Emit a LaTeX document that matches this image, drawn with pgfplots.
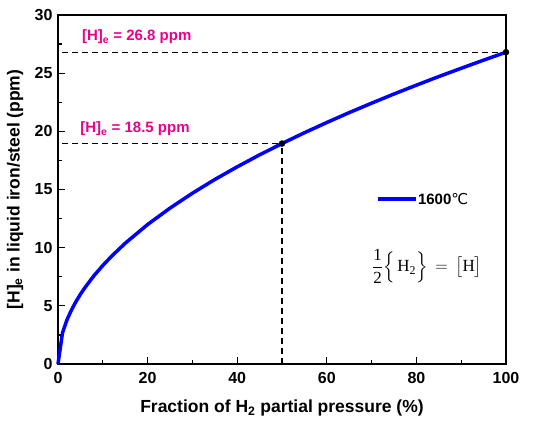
\documentclass[border=0pt]{standalone}
\usepackage{amsmath}
\usepackage{pgfplots}
\pgfplotsset{compat=1.18}
\usepackage{fontspec}
\setmainfont{Liberation Sans}
\newfontfamily\serifeq{Liberation Serif}
\newfontfamily\symfont{DejaVu Sans}
\definecolor{hpink}{RGB}{236,0,140}

\begin{document}
\begin{tikzpicture}
\begin{axis}[
    scale only axis,
    width=448pt, height=349pt,
    xmin=0, xmax=100, ymin=0, ymax=30,
    xtick={0,20,...,100}, ytick={0,5,...,30},
    minor x tick num=1, minor y tick num=1,
    tick align=inside,
    xtick pos=bottom, ytick pos=left,
    major tick length=7pt, minor tick length=4pt,
    every tick/.style={black, line width=1.2pt},
    axis line style={line width=1.5pt},
    tick label style={font=\fontsize{16}{19}\selectfont\bfseries},
    /pgf/number format/assume math mode=true,
    xticklabel style={yshift=-5pt},
    yticklabel style={xshift=-2pt},
    xlabel={Fraction of H$_\mathbf{2}$ partial pressure (\%)},
    ylabel={[H]$_\mathrm{\mathbf{e}}$ in liquid iron/steel (ppm)},
    label style={font=\fontsize{17.5}{20}\selectfont\bfseries},
    xlabel style={at={(axis description cs:0.5,-0.126)}, anchor=center},
    ylabel style={at={(axis description cs:-0.096,0.5)}, anchor=center},
    clip=false,
]
% guide lines
\addplot[black, line width=1.1pt, dash pattern=on 6pt off 4pt] coordinates {(1,26.8) (100,26.8)};
\addplot[black, line width=1.1pt, dash pattern=on 6pt off 4pt] coordinates {(1,18.95) (50,18.95)};
\addplot[black, line width=1.1pt, dash pattern=on 6pt off 4pt] coordinates {(50,0) (50,18.95)};
% Sieverts curve, 1600 C
\addplot[blue, line width=3.5pt, line join=round] coordinates {
(0,0) (1,2.68) (2,3.79) (3,4.64) (4,5.36) (5,5.99) (6,6.56) (8,7.58)
(10,8.47) (12,9.28) (15,10.38) (20,11.99) (25,13.40) (30,14.68)
(35,15.86) (40,16.95) (45,17.98) (50,18.95) (55,19.88) (60,20.76)
(65,21.61) (70,22.42) (75,23.21) (80,23.97) (85,24.71) (90,25.42)
(95,26.12) (100,26.80)};
\addplot[only marks, mark=*, mark size=3pt, black] coordinates {(50,18.95) (100,26.8)};
% annotations
\node[anchor=west, text=hpink, font=\fontsize{15}{18}\selectfont\bfseries] at (axis cs:4.6,28.1) {[H]$_\mathrm{\mathbf{e}}$ = 26.8 ppm};
\node[anchor=west, text=hpink, font=\fontsize{15}{18}\selectfont\bfseries] at (axis cs:4.2,20.2) {[H]$_\mathrm{\mathbf{e}}$ = 18.5 ppm};
% legend
\draw[blue, line width=3.5pt] (axis cs:71.4,14.2) -- (axis cs:79.9,14.2);
\node[anchor=west, font=\fontsize{15}{18}\selectfont\bfseries, inner sep=1pt] at (axis cs:80.1,14.2) {1600{\symfont\mdseries ℃}};
% reaction
\node[font=\fontsize{17}{20}\selectfont] at (axis cs:82.4,8.4)
  {$\displaystyle\frac{\text{\serifeq 1}}{\text{\serifeq 2}}\Bigl\{\,\text{\serifeq H}_{\text{\serifeq 2}}\Bigr\}\,=\,\bigl[\text{\serifeq H}\bigr]$};
\end{axis}
\pgfresetboundingbox
\path[use as bounding box] (-58pt,-60pt) rectangle (492pt,364pt);
\end{tikzpicture}
\end{document}
